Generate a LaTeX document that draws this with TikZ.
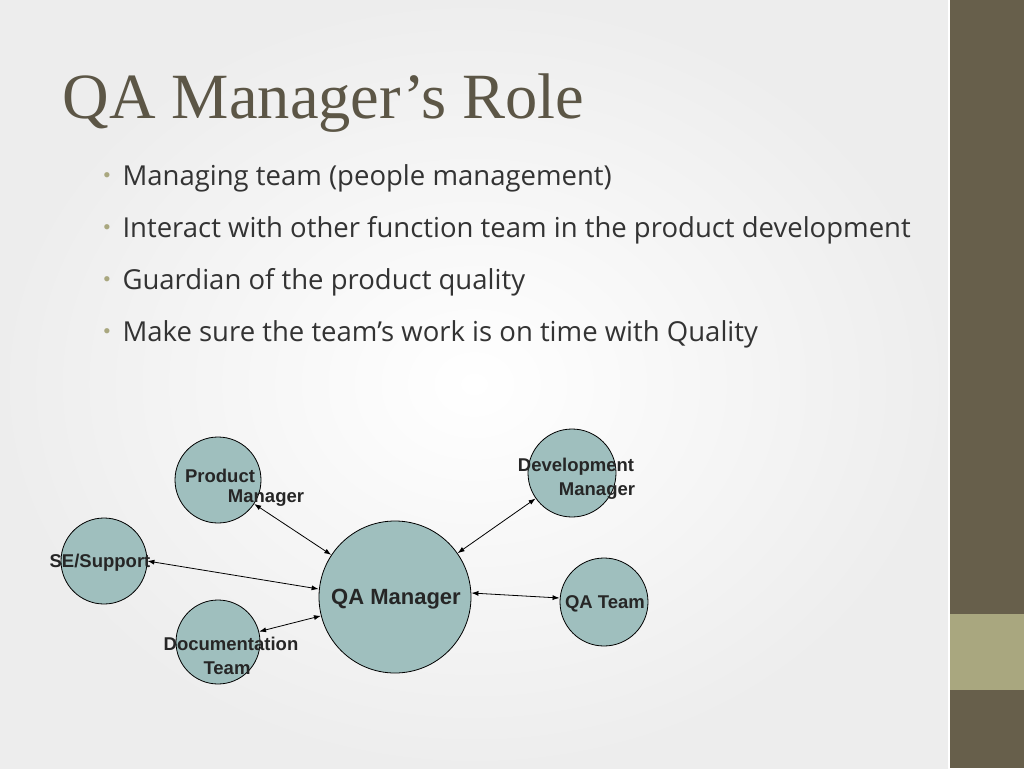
\documentclass[tikz,border=0pt]{standalone}
\usepackage{fontspec}
\usetikzlibrary{arrows.meta}
\setmainfont{Liberation Serif}
\newfontfamily\bulfont{Open Sans}
\newfontfamily\lab{Liberation Sans}
\begin{document}
\begin{tikzpicture}[x=1pt,y=-1pt,
  circ/.style={circle,draw=black,fill=cfill,line width=0.8pt,inner sep=0pt},
  lbl/.style={font=\lab\bfseries\fontsize{18.5}{20}\selectfont,text=black!85,align=center},
  conn/.style={{Latex[length=7pt,width=5pt]}-{Latex[length=7pt,width=5pt]},line width=0.8pt},
  bul/.style={anchor=west,font=\bulfont\fontsize{27.5}{30}\selectfont,text=black!80}]
\definecolor{cfill}{HTML}{9FBFBE}
\definecolor{band}{HTML}{675F4B}
\definecolor{bandl}{HTML}{A9A77F}
\definecolor{ttl}{HTML}{5C5646}
\definecolor{bdot}{HTML}{A9A77F}
\useasboundingbox (0,0) rectangle (1024,768);
\shade[inner color=white,outer color=black!7] (0,0) rectangle (948,768);
\fill[band] (948,0) rectangle (1024,768);
\fill[bandl] (948,614) rectangle (1024,690);
\draw[white,line width=1.5pt] (949,0) -- (949,768);
\node[anchor=west,text=ttl,font=\fontsize{64.5}{70}\selectfont] (title) at (59,103) {QA Manager’s Role};
\foreach \y/\t [count=\i] in {178/Managing team (people management),230/Interact with other function team in the product development,282/Guardian of the product quality,334/Make sure the team’s work is on time with Quality}{
  \node[text=bdot,font=\fontsize{22}{22}\selectfont] (d\i) at (107,\y) {•};
  \node[bul] (b\i) at (119,\y) {\t};
}
\node[circ,minimum size=86pt] (pm) at (218,480) {};
\node[circ,minimum size=88pt] (dm) at (572,473) {};
\node[circ,minimum size=86pt] (se) at (104,561) {};
\node[circ,minimum size=152pt] (qa) at (395,597) {};
\node[circ,minimum size=88pt] (qt) at (604,602) {};
\node[circ,minimum size=84pt] (doc) at (218,642) {};
\node[lbl] (pml1) at (220,476) {Product};
\node[lbl] (pml2) at (266,498) {Manager};
\node[lbl] (dml1) at (576,467) {Development};
\node[lbl] (dml2) at (597,491) {Manager};
\node[lbl] (sel) at (100,563) {SE/Support};
\node[lbl,font=\lab\bfseries\fontsize{22}{24}\selectfont] (qal) at (396,599) {QA Manager};
\node[lbl] (qtl) at (605,604) {QA Team};
\node[lbl] (docl1) at (231,644) {Documentation};
\node[lbl] (docl2) at (227,668) {Team};
\draw[conn] (pm) -- (qa);
\draw[conn] (se.east) -- ([yshift=8pt]qa.west);
\draw[conn] (doc) -- (qa);
\draw[conn] (qa) -- (dm);
\draw[conn] ([yshift=4pt]qa.east) -- ([yshift=4pt]qt.west);
\end{tikzpicture}
\end{document}
